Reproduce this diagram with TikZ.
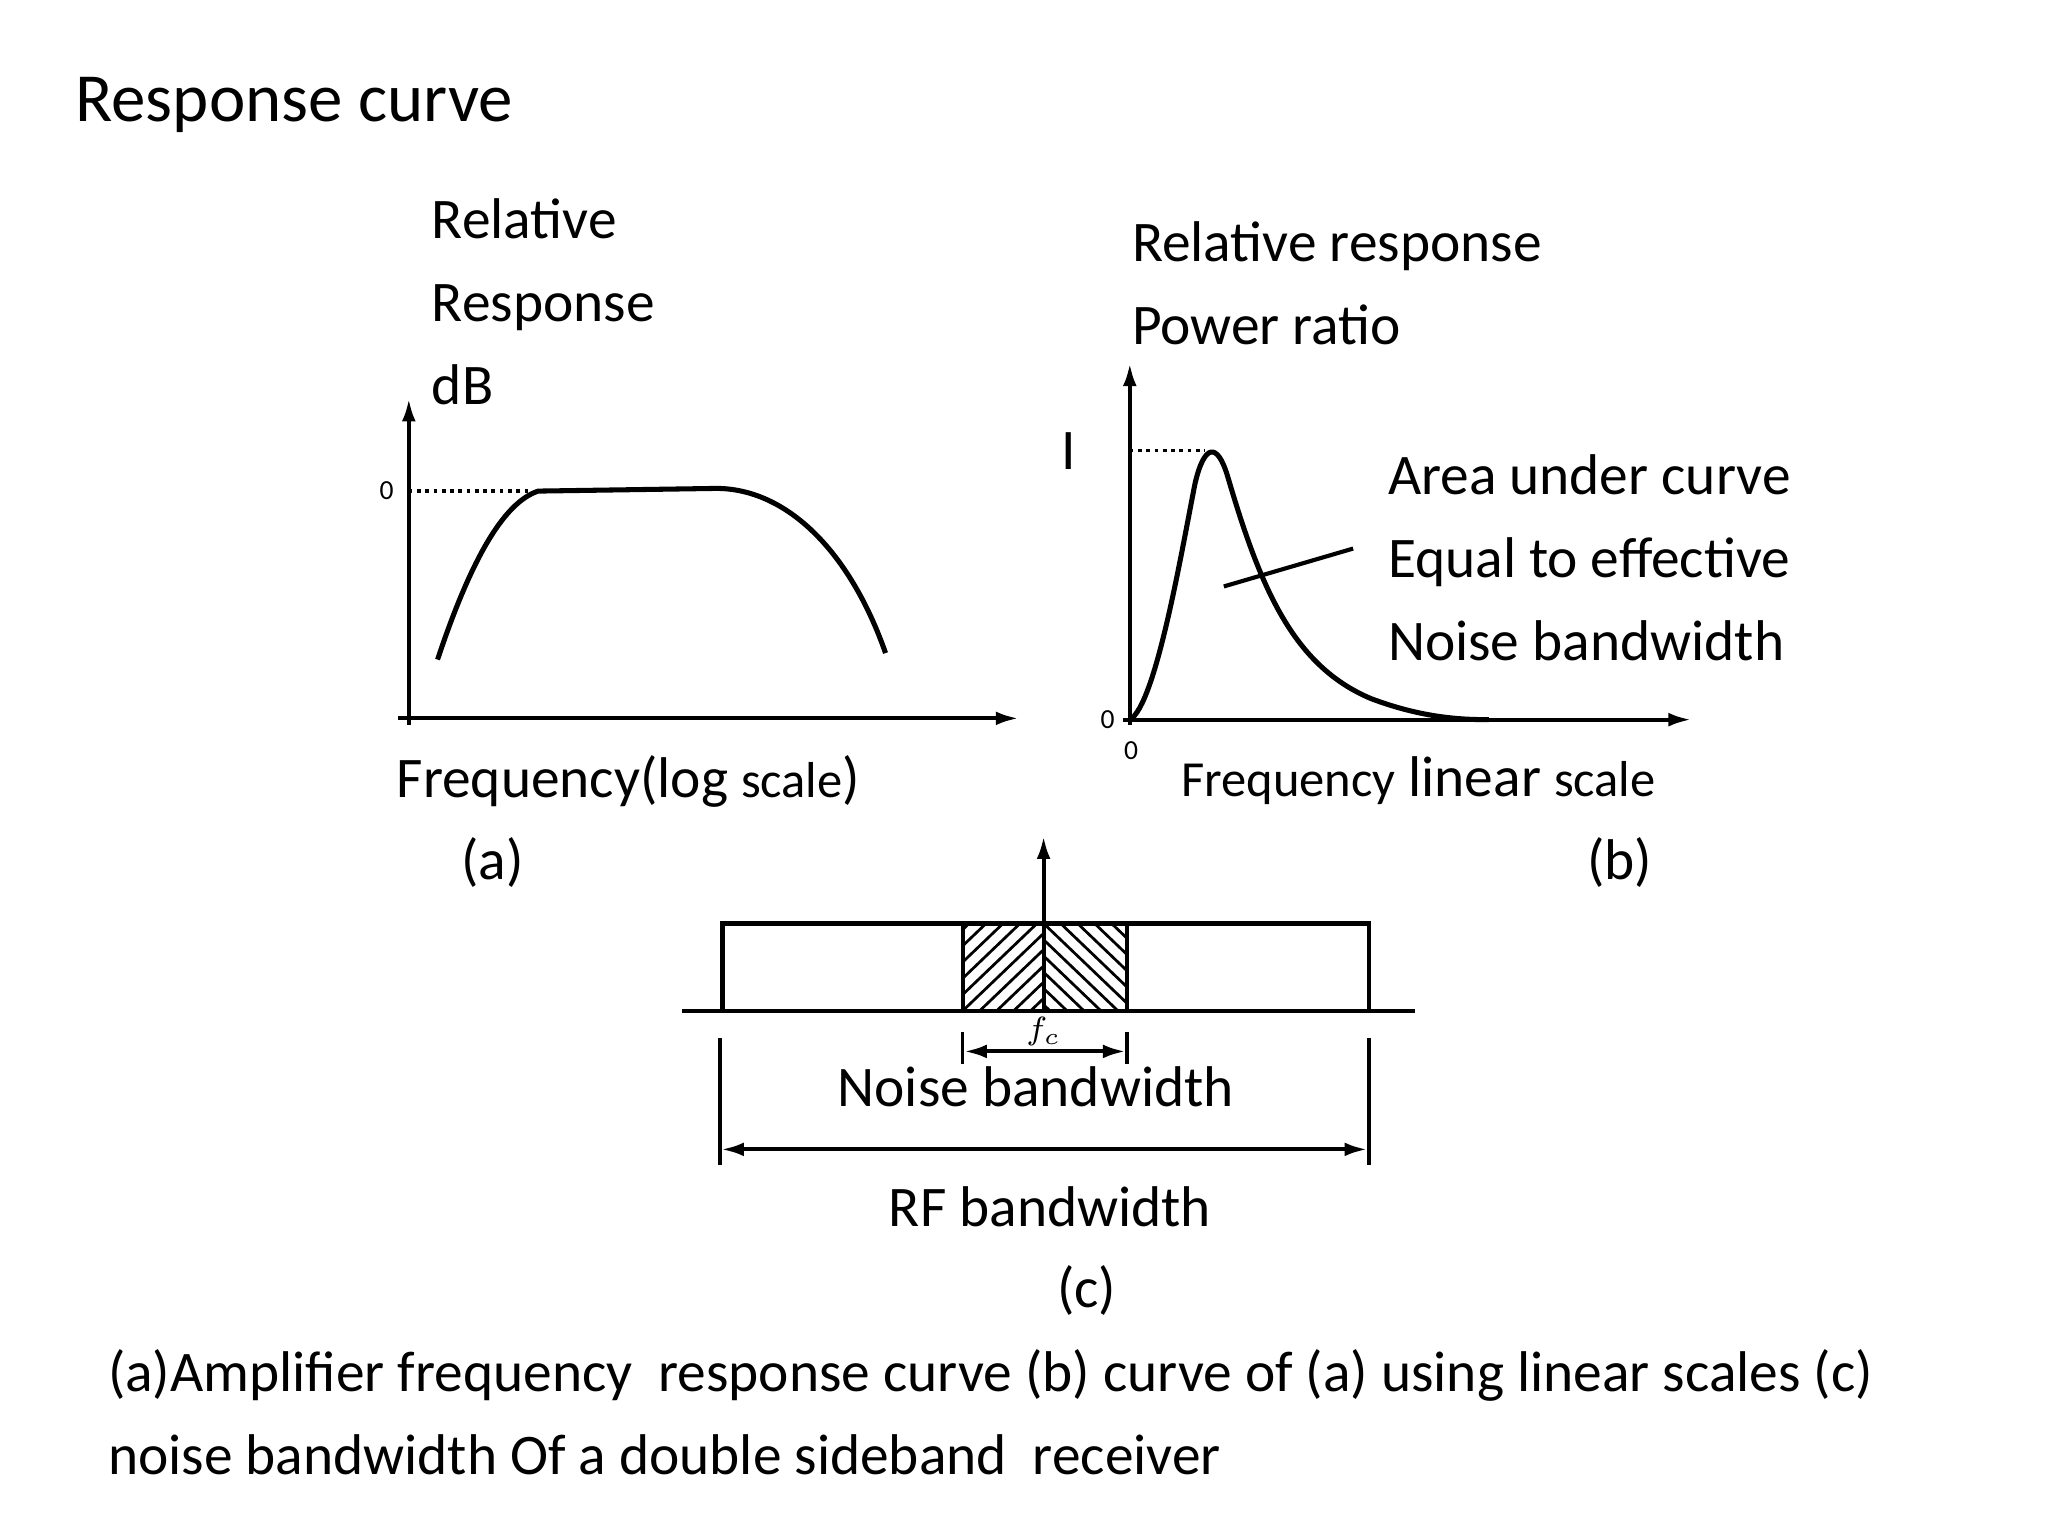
\documentclass[tikz,border=0pt]{standalone}
\usepackage{fontspec}
\setmainfont{Carlito}
\usetikzlibrary{arrows.meta}
\begin{document}
\begin{tikzpicture}[x=0.01cm,y=-0.01cm,
  lbl/.style={font=\fontsize{12.5}{15}\selectfont,inner sep=0pt},
  lbll/.style={lbl,anchor=west},
  small/.style={font=\fontsize{6}{7}\selectfont,inner sep=0pt},
  ax/.style={line width=0.9pt,-{Latex[length=5pt,width=3pt]}},
  crv/.style={line width=1.1pt},
  dots/.style={densely dotted,line width=0.8pt},
  dim/.style={line width=0.9pt,{Latex[length=5pt,width=3pt]}-{Latex[length=5pt,width=3pt]}}]
\useasboundingbox[fill=white] (0,0) rectangle (1568,1176);
\node[lbll,font=\fontsize{15}{18}\selectfont] (title) at (57,80) {Response curve};
% (a)
\coordinate (ao) at (313,550);
\draw[ax] (313,555) -- (313,305) coordinate (ay);
\draw[ax] (305,550) -- (780,550) coordinate (ax);
\node[small] (a0) at (296,376) {0};
\draw[dots] (313,376) -- (405,376);
\draw[crv] (335,505) .. controls (360,430) and (385,385) .. (412,376)
  -- (545,374) .. controls (600,372) and (650,420) .. (678,500);
\node[lbll,align=left] (aylab) at (330,231) {Relative\\[3pt]Response\\[3pt]dB};
\node[lbll] (axlab) at (303,598) {Frequency(log {\fontsize{11}{13}\selectfont scale})};
\node[lbl] (alab) at (377,660) {(a)};
% (b)
\draw[ax] (865,555) -- (865,278);
\draw[ax] (860,551) -- (1295,551);
\draw[dots] (865,345) -- (922,345);
\draw[crv] (865,551) .. controls (885,540) and (905,420) .. (915,370)
  .. controls (922,340) and (932,338) .. (940,365)
  .. controls (965,450) and (990,510) .. (1050,535)
  .. controls (1090,550) and (1120,551) .. (1140,551);
\node[small] (b0a) at (848,551) {0};
\node[small] (b0b) at (866,575) {0};
\node[lbl] (bI) at (818,345) {I};
\node[lbll,align=left] (barea) at (1062,427) {Area under curve\\[3pt]Equal to effective\\[3pt]Noise bandwidth};
\draw[line width=0.9pt] (937,449) -- (1036,420);
\node[lbll,align=left] (bylab) at (866,217) {Relative response\\[3pt]Power ratio};
\node[lbl] (bxlab) at (1086,598) {{\fontsize{11}{13}\selectfont Frequency} linear {\fontsize{11}{13}\selectfont scale}};
\node[lbl] (blab) at (1240,660) {(b)};
% (c)
\draw[line width=1pt] (522,774) -- (1083,774);
\draw[line width=1pt] (553,774) -- (553,707) -- (1048,707) -- (1048,774);
\begin{scope}
\clip (737,707) rectangle (799,774);
\foreach \i in {-6,...,10} \draw[line width=0.6pt] (737+\i*13,774) -- ++(70,-67);
\end{scope}
\begin{scope}
\clip (799,707) rectangle (863,774);
\foreach \i in {-6,...,10} \draw[line width=0.6pt] (799+\i*13,707) -- ++(70,67);
\end{scope}
\draw[line width=0.9pt] (737,707) rectangle (863,774);
\draw[ax] (799,774) -- (799,640);
\node[small,font=\fontsize{7}{8}\selectfont\itshape] (fc) at (799,790) {$f_c$};
\draw[line width=0.8pt] (737,790) -- (737,815) (863,790) -- (863,815);
\draw[dim] (738,805) -- (862,805);
\node[lbl] (nb) at (793,832) {Noise bandwidth};
\draw[line width=0.8pt] (551,795) -- (551,892) (1048,795) -- (1048,892);
\draw[dim] (552,880) -- (1047,880);
\node[lbl] (rf) at (804,924) {RF bandwidth};
\node[lbl] (clab) at (832,988) {(c)};
\node[lbll,align=left] (cap) at (82,1081) {(a)Amplifier frequency\ \ response curve (b) curve of (a) using linear scales (c)\\[3pt]noise bandwidth Of a double sideband\ \ receiver};
\end{tikzpicture}
\end{document}
